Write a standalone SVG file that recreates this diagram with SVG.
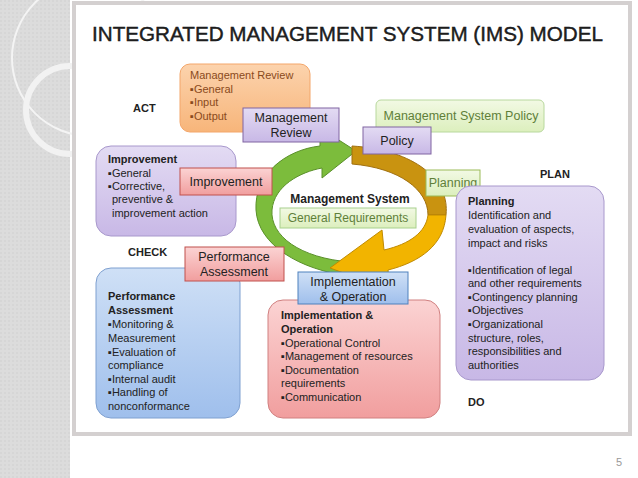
<svg xmlns="http://www.w3.org/2000/svg" width="638" height="478" viewBox="0 0 638 478">
<defs>
<pattern id="dots" width="4" height="4" patternUnits="userSpaceOnUse"><rect width="4" height="4" fill="#dcdcdc"/><circle cx="1" cy="1" r="0.8" fill="#cfcfcf"/></pattern>
<linearGradient id="gO" x1="0" y1="0" x2="0" y2="1"><stop offset="0" stop-color="#fcd3ad"/><stop offset="1" stop-color="#f7b57a"/></linearGradient>
<linearGradient id="gP" x1="0" y1="0" x2="0" y2="1"><stop offset="0" stop-color="#e3dbf3"/><stop offset="1" stop-color="#c8b8e6"/></linearGradient>
<linearGradient id="gB" x1="0" y1="0" x2="0" y2="1"><stop offset="0" stop-color="#cfe0f6"/><stop offset="1" stop-color="#9fbfec"/></linearGradient>
<linearGradient id="gR" x1="0" y1="0" x2="0" y2="1"><stop offset="0" stop-color="#fbd3d3"/><stop offset="1" stop-color="#f19e9e"/></linearGradient>
<linearGradient id="gG" x1="0" y1="0" x2="0" y2="1"><stop offset="0" stop-color="#f2f9e4"/><stop offset="1" stop-color="#dcefbd"/></linearGradient>
</defs>
<style>
text{font-family:"Liberation Sans",Arial,sans-serif;font-size:11px;fill:#222}
.b{font-weight:bold}
.c{text-anchor:middle}
.lab{font-size:12.5px}
.br{fill:#8a4a1c}
.gt{fill:#5f7f3a}
</style>
<rect width="638" height="478" fill="#fff"/>
<rect width="70" height="478" fill="url(#dots)"/>
<circle cx="90" cy="58" r="78" fill="none" stroke="#f4f4f4" stroke-width="2"/>
<circle cx="70" cy="110" r="44" fill="none" stroke="#f2f2f2" stroke-width="6"/>
<rect x="74" y="3" width="556" height="431" fill="#fff" stroke="#d4d0d0" stroke-width="4"/>
<text x="92" y="41" style="font-size:20px;stroke:#111;stroke-width:0.4" fill="#111" textLength="511" lengthAdjust="spacingAndGlyphs">INTEGRATED MANAGEMENT SYSTEM (IMS) MODEL</text>

<g id="connectors">
<path d="M350,276 L350,262 C300,258 270,236 272,210 C274,186 300,172 322,168 L322,178 L356,151 L320,128 L320,146 C285,150 254,175 256,210 C258,245 300,270 350,276 Z" fill="#7cbc3c" stroke="#5a902a"/>
<path d="M352,146 C415,150 450,180 446,215 L428,215 C428,190 400,168 352,164 Z" fill="#c99310" stroke="#a07010"/>
<path d="M446,215 C444,245 420,262 388,270 L390,290 L330,268 L382,230 L384,250 C410,244 426,232 428,215 Z" fill="#f2b400" stroke="#c08a00"/>
</g>

<g id="ms"><text x="350" y="203" class="b c" style="font-size:12px">Management System</text></g>
<g id="genreq"><rect x="280" y="208" width="136" height="20" fill="url(#gG)" stroke="#a8d08d"/><text x="348" y="222" class="c gt" style="font-size:12px">General Requirements</text></g>

<g id="act"><text x="133" y="112" class="b">ACT</text></g>
<g id="mr-box"><rect x="180" y="64" width="130" height="68" rx="10" fill="url(#gO)" stroke="#f3a66a"/>
<text x="190" y="79" class="br">Management Review</text><text x="190" y="93" class="br">▪General</text><text x="190" y="106" class="br">▪Input</text><text x="190" y="120" class="br">▪Output</text></g>
<g id="mr-lab"><rect x="243" y="108" width="96" height="34" fill="url(#gP)" stroke="#8064a2"/><text x="291" y="122" class="c lab">Management</text><text x="291" y="137" class="c lab">Review</text></g>

<g id="imp-box"><rect x="96" y="146" width="140" height="90" rx="15" fill="url(#gP)" stroke="#a898cc"/>
<text x="108" y="163" class="b">Improvement</text><text x="108" y="177">▪General</text><text x="108" y="190">▪Corrective,</text><text x="112" y="203">preventive &amp;</text><text x="112" y="217">improvement action</text></g>
<g id="imp-lab"><rect x="180" y="168" width="92" height="27" fill="url(#gR)" stroke="#c0504d"/><text x="226" y="186" class="c lab">Improvement</text></g>

<g id="check"><text x="128" y="256" class="b">CHECK</text></g>
<g id="pa-box"><rect x="96" y="268" width="144" height="150" rx="15" fill="url(#gB)" stroke="#7fa0d0"/>
<text x="108" y="300" class="b">Performance</text><text x="108" y="314" class="b">Assessment</text><text x="108" y="328">▪Monitoring &amp;</text><text x="108" y="342">Measurement</text><text x="108" y="356">▪Evaluation of</text><text x="108" y="369">compliance</text><text x="108" y="383">▪Internal audit</text><text x="108" y="396">▪Handling of</text><text x="108" y="410">nonconformance</text></g>
<g id="pa-lab"><rect x="185" y="247" width="99" height="34" fill="url(#gR)" stroke="#c0504d"/><text x="234" y="261" class="c lab">Performance</text><text x="234" y="276" class="c lab">Assessment</text></g>

<g id="io-box"><rect x="268" y="300" width="172" height="118" rx="15" fill="url(#gR)" stroke="#d08080"/>
<text x="281" y="319" class="b">Implementation &amp;</text><text x="281" y="333" class="b">Operation</text><text x="281" y="347">▪Operational Control</text><text x="281" y="360">▪Management of resources</text><text x="281" y="374">▪Documentation</text><text x="281" y="387">requirements</text><text x="281" y="401">▪Communication</text></g>
<g id="io-lab"><rect x="298" y="272" width="110" height="32" fill="url(#gB)" stroke="#4f81bd"/><text x="353" y="286" class="c lab">Implementation</text><text x="353" y="301" class="c lab">&amp; Operation</text></g>

<g id="msp"><rect x="376" y="100" width="168" height="32" rx="5" fill="url(#gG)" stroke="#b8d89d"/><text x="461" y="120" class="c gt lab">Management System Policy</text></g>
<g id="policy"><rect x="363" y="127" width="68" height="27" fill="url(#gP)" stroke="#8064a2"/><text x="397" y="145" class="c lab">Policy</text></g>
<g id="planning-lab"><rect x="426" y="170" width="54" height="26" fill="url(#gG)" stroke="#9bbb59"/><text x="453" y="187" class="c gt lab">Planning</text></g>

<g id="plan"><text x="540" y="178" class="b">PLAN</text></g>
<g id="plan-box"><rect x="456" y="186" width="148" height="194" rx="15" fill="url(#gP)" stroke="#a898cc"/>
<text x="468" y="205" class="b">Planning</text><text x="468" y="219">Identification and</text><text x="468" y="233">evaluation of aspects,</text><text x="468" y="247">impact and risks</text>
<text x="468" y="274">▪Identification of legal</text><text x="468" y="287">and other requirements</text><text x="468" y="301">▪Contingency planning</text><text x="468" y="314">▪Objectives</text><text x="468" y="328">▪Organizational</text><text x="468" y="342">structure, roles,</text><text x="468" y="355">responsibilities and</text><text x="468" y="369">authorities</text></g>
<g id="do"><text x="468" y="406" class="b">DO</text></g>
<text x="616" y="466" style="font-size:11px;fill:#999">5</text>
</svg>
